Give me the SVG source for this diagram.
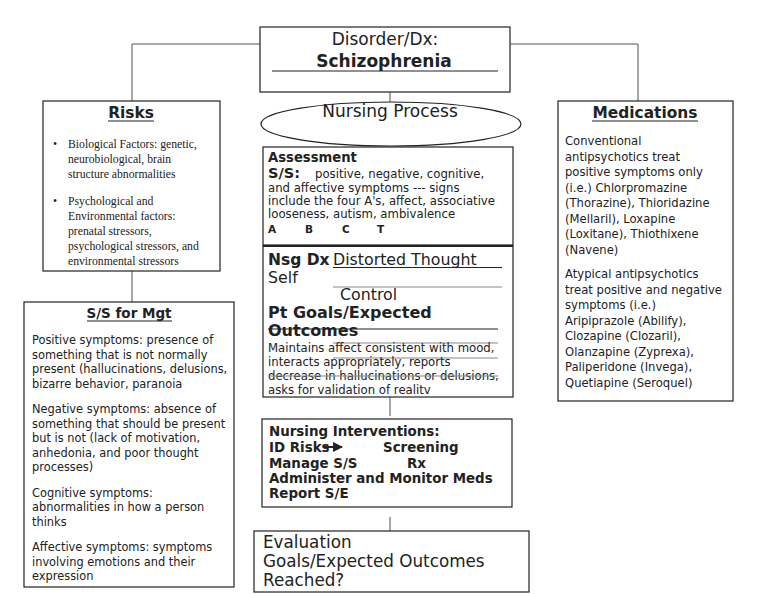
<svg xmlns="http://www.w3.org/2000/svg" width="768" height="594" viewBox="0 0 768 594">
<defs>
<style>
.box{fill:#fff;stroke:#222;stroke-width:1.2}
.con{fill:none;stroke:#8a8a8a;stroke-width:1.5}
.conh{fill:none;stroke:#aaa;stroke-width:2}
.ul{stroke:#222;stroke-width:1.2}
.gl{stroke:#888;stroke-width:1.2}
text{font-family:"DejaVu Sans","Noto Sans",sans-serif;fill:#222}
.b{font-weight:bold}
.ser{font-family:"Liberation Serif","DejaVu Serif",serif;font-size:11.7px}
.body{font-size:11.4px}
.med{font-size:11.6px}
.ass{font-size:11.7px}
.nint{font-size:13.4px;font-weight:bold}
.big{font-size:16.8px}
</style>
<marker id="ah" viewBox="0 0 10 10" refX="9" refY="5" markerWidth="5" markerHeight="5" orient="auto"><path d="M0,0 L10,5 L0,10 z" fill="#222"/></marker>
</defs>
<rect width="768" height="594" fill="#fff"/>
<g id="connectors">
<polyline class="conh" points="260,44 132,44"/>
<line class="con" x1="132" y1="44" x2="132" y2="101"/>
<polyline class="conh" points="510,44 638,44"/>
<line class="con" x1="638" y1="44" x2="638" y2="101"/>
<line class="con" x1="390" y1="83" x2="390" y2="102"/>
<line class="con" x1="132" y1="271" x2="132" y2="302"/>
<line class="con" x1="390" y1="397" x2="390" y2="416"/>
<line class="con" x1="390" y1="517" x2="390" y2="531"/>
</g>
<g id="disorder">
<rect class="box" x="260" y="27" width="250" height="65"/>
<text x="385" y="45" text-anchor="middle" font-size="17">Disorder/Dx:</text>
<text x="384" y="67" text-anchor="middle" font-size="17" class="b">Schizophrenia</text>
<line class="ul" x1="272" y1="71" x2="498" y2="71"/>
</g>
<g id="nursing-process">
<ellipse cx="391" cy="124" rx="130" ry="22" fill="#fff" stroke="#222" stroke-width="1.2"/>
<text x="390" y="117" text-anchor="middle" font-size="17">Nursing Process</text>
</g>
<g id="risks">
<rect class="box" x="43" y="101" width="177" height="170"/>
<text x="131" y="118" text-anchor="middle" font-size="15.4" class="b">Risks</text>
<line class="ul" x1="108" y1="121" x2="154" y2="121"/>
<text class="ser" x="53" y="147.5">•</text>
<text class="ser" x="68" y="147.5">Biological Factors: genetic,</text>
<text class="ser" x="68" y="162.5">neurobiological, brain</text>
<text class="ser" x="68" y="177.5">structure abnormalities</text>
<text class="ser" x="53" y="204.5">•</text>
<text class="ser" x="68" y="204.5">Psychological and</text>
<text class="ser" x="68" y="219.5">Environmental factors:</text>
<text class="ser" x="68" y="234.5">prenatal stressors,</text>
<text class="ser" x="68" y="249.5">psychological stressors, and</text>
<text class="ser" x="68" y="264.5">environmental stressors</text>
</g>
<g id="ss-mgt">
<rect class="box" x="24" y="302" width="210" height="285"/>
<text x="129" y="318" text-anchor="middle" font-size="13.5" class="b">S/S for Mgt</text>
<line class="ul" x1="87" y1="321" x2="172" y2="321"/>
<text class="body" x="32" y="344">Positive symptoms: presence of</text>
<text class="body" x="32" y="359">something that is not normally</text>
<text class="body" x="32" y="373">present (hallucinations, delusions,</text>
<text class="body" x="32" y="388">bizarre behavior, paranoia</text>
<text class="body" x="32" y="413">Negative symptoms: absence of</text>
<text class="body" x="32" y="428">something that should be present</text>
<text class="body" x="32" y="442">but is not (lack of motivation,</text>
<text class="body" x="32" y="457">anhedonia, and poor thought</text>
<text class="body" x="32" y="471">processes)</text>
<text class="body" x="32" y="497">Cognitive symptoms:</text>
<text class="body" x="32" y="511">abnormalities in how a person</text>
<text class="body" x="32" y="526">thinks</text>
<text class="body" x="32" y="551">Affective symptoms: symptoms</text>
<text class="body" x="32" y="566">involving emotions and their</text>
<text class="body" x="32" y="580">expression</text>
</g>
<g id="medications">
<rect class="box" x="558" y="101" width="175" height="300"/>
<text x="645" y="118" text-anchor="middle" font-size="15.4" class="b">Medications</text>
<line class="ul" x1="592" y1="121" x2="698" y2="121"/>
<text class="med" x="565" y="145">Conventional</text>
<text class="med" x="565" y="160.5">antipsychotics treat</text>
<text class="med" x="565" y="176">positive symptoms only</text>
<text class="med" x="565" y="191.5">(i.e.) Chlorpromazine</text>
<text class="med" x="565" y="207">(Thorazine), Thioridazine</text>
<text class="med" x="565" y="222.5">(Mellaril), Loxapine</text>
<text class="med" x="565" y="238">(Loxitane), Thiothixene</text>
<text class="med" x="565" y="253.5">(Navene)</text>
<text class="med" x="565" y="278">Atypical antipsychotics</text>
<text class="med" x="565" y="293.5">treat positive and negative</text>
<text class="med" x="565" y="309">symptoms (i.e.)</text>
<text class="med" x="565" y="324.5">Aripiprazole (Abilify),</text>
<text class="med" x="565" y="340">Clozapine (Clozaril),</text>
<text class="med" x="565" y="355.5">Olanzapine (Zyprexa),</text>
<text class="med" x="565" y="371">Paliperidone (Invega),</text>
<text class="med" x="565" y="386.5">Quetiapine (Seroquel)</text>
</g>
<g id="assessment">
<rect class="box" x="263" y="147" width="250" height="98"/>
<text x="268" y="162" font-size="13.2" class="b">Assessment</text>
<text x="268" y="178" font-size="14.5" class="b">S/S:</text>
<text class="ass" x="315" y="178">positive, negative, cognitive,</text>
<text class="ass" x="268" y="192">and affective symptoms --- signs</text>
<text class="ass" x="268" y="205">include the four A's, affect, associative</text>
<text class="ass" x="268" y="218">looseness, autism, ambivalence</text>
<text x="268" y="233" font-size="10.5" class="b">A</text>
<text x="305" y="233" font-size="10.5" class="b">B</text>
<text x="342" y="233" font-size="10.5" class="b">C</text>
<text x="377" y="233" font-size="10.5" class="b">T</text>
</g>
<g id="nsg-dx">
<rect class="box" x="263" y="246" width="250" height="151"/>
<line x1="263" y1="246" x2="513" y2="246" stroke="#222" stroke-width="2.2"/>
<text x="268" y="265" font-size="15.5" class="b">Nsg Dx</text>
<text x="333" y="265" font-size="15.8">Distorted Thought</text>
<line class="ul" x1="333" y1="267.5" x2="502" y2="267.5"/>
<text x="268" y="283" font-size="15.8">Self</text>
<line class="gl" x1="333" y1="287" x2="502" y2="287"/>
<text x="340" y="300" font-size="15.8">Control</text>
<text x="268" y="318" font-size="16" class="b">Pt Goals/Expected</text>
<text x="268" y="336" font-size="16" class="b">Outcomes</text>
<line class="ul" x1="268" y1="329" x2="498" y2="329"/>
<line class="gl" x1="333" y1="343" x2="498" y2="343"/>
<text class="ass" x="268" y="352">Maintains affect consistent with mood,</text>
<line class="gl" x1="333" y1="358" x2="498" y2="358"/>
<text class="ass" x="268" y="366">interacts appropriately, reports</text>
<text class="ass" x="268" y="380">decrease in hallucinations or delusions,</text>
<line class="gl" x1="270" y1="376" x2="498" y2="376"/>
<text class="ass" x="268" y="394">asks for validation of realitv</text>
</g>
<g id="interventions">
<rect class="box" x="262" y="419" width="250" height="88"/>
<text class="nint" x="269" y="436">Nursing Interventions:</text>
<text class="nint" x="269" y="452">ID Risks</text>
<line x1="323" y1="447" x2="342" y2="447" stroke="#222" stroke-width="2" marker-end="url(#ah)"/>
<text class="nint" x="383" y="452">Screening</text>
<text class="nint" x="269" y="468">Manage S/S</text>
<text class="nint" x="407" y="468">Rx</text>
<text class="nint" x="269" y="483">Administer and Monitor Meds</text>
<text class="nint" x="269" y="498">Report S/E</text>
</g>
<g id="evaluation">
<rect class="box" x="254" y="531" width="275" height="61"/>
<text class="big" x="263" y="548">Evaluation</text>
<text class="big" x="263" y="567">Goals/Expected Outcomes</text>
<text class="big" x="263" y="586">Reached?</text>
</g>
</svg>
